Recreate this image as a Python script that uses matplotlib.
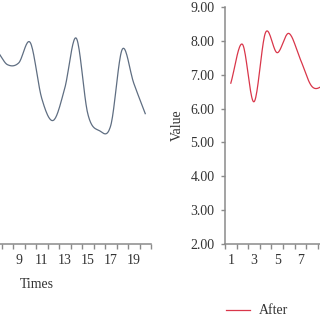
import numpy as np
import matplotlib
matplotlib.use("Agg")
import matplotlib.pyplot as plt
from matplotlib.lines import Line2D

plt.rcParams['font.family'] = ['Liberation Serif', 'DejaVu Serif']

# donnees (les premiers points du panneau gauche sont hors cadre)
temps = list(range(1, 21))
avant = [6.5, 7.2, 6.8, 7.6, 7.0, 7.4, 7.7, 7.3, 7.35, 7.95,
         6.3, 5.65, 6.6, 8.08, 5.85, 5.35, 5.5, 7.75, 6.75, 5.85]
apres = [6.75, 7.9, 6.2, 8.25, 7.65, 8.22, 7.45, 6.65, 6.7, 7.1,
         6.9, 7.4, 7.0, 6.8, 7.3, 7.6, 7.1, 6.9, 7.2, 7.0]
yticks = [2, 3, 4, 5, 6, 7, 8, 9]
labels_gauche = [9, 11, 13, 15, 17, 19]
labels_droite = [1, 3, 5, 7]

gris = '#8a8a8a'
txt = '#333333'
fs = 10


# courbe lissee type Catmull-Rom pour le trace
def lisser(x, y, n=20):
    x = np.asarray(x, float)
    y = np.asarray(y, float)
    px = np.concatenate([[2 * x[0] - x[1]], x, [2 * x[-1] - x[-2]]])
    py = np.concatenate([[2 * y[0] - y[1]], y, [2 * y[-1] - y[-2]]])
    xs, ys = [], []
    t = np.linspace(0, 1, n, endpoint=False)
    for i in range(1, len(px) - 2):
        for arr, out in ((px, xs), (py, ys)):
            p0, p1, p2, p3 = arr[i - 1], arr[i], arr[i + 1], arr[i + 2]
            out.extend(0.5 * (2 * p1 + (-p0 + p2) * t
                              + (2 * p0 - 5 * p1 + 4 * p2 - p3) * t ** 2
                              + (-p0 + 3 * p1 - 3 * p2 + p3) * t ** 3))
    xs.append(x[-1])
    ys.append(y[-1])
    return np.array(xs), np.array(ys)


def style_axe(ax, labels_x, avec_y):
    ax.set_xlim(0.5, 20.5)
    ax.set_ylim(2, 9)
    for s in ['top', 'right']:
        ax.spines[s].set_visible(False)
    for s in ['left', 'bottom']:
        ax.spines[s].set_color(gris)
        ax.spines[s].set_linewidth(1.1)
    # graduations entre les categories, etiquettes au centre
    ax.set_xticks(np.arange(0.5, 21, 1))
    ax.set_xticklabels([])
    ax.set_xticks(labels_x, minor=True)
    ax.set_xticklabels([str(v) for v in labels_x], minor=True)
    ax.tick_params(axis='x', which='major', length=3.5, width=1, color=gris)
    ax.tick_params(axis='x', which='minor', length=0, pad=7.5, labelsize=fs, labelcolor=txt)
    ax.set_yticks(yticks)
    if avec_y:
        ax.set_yticklabels(['%.2f' % v for v in yticks])
    else:
        ax.set_yticklabels([])
    ax.tick_params(axis='y', length=3, width=1, color=gris, pad=4.5, labelsize=fs, labelcolor=txt)


fig = plt.figure(figsize=(3.2, 3.2), dpi=100)

ax1 = fig.add_axes([-79 / 320, 76 / 320, 230 / 320, 237 / 320])
style_axe(ax1, labels_gauche, False)
xs, ys = lisser(temps, avant)
ax1.plot(xs, ys, color='#5f6e82', linewidth=0.9)
ax1.set_xlabel('Times', fontsize=fs, color=txt)
ax1.xaxis.set_label_coords(0.503, -0.144)

ax2 = fig.add_axes([225 / 320, 76 / 320, 232 / 320, 237 / 320])
style_axe(ax2, labels_droite, True)
xs, ys = lisser(temps, apres)
ax2.plot(xs, ys, color='#d9364a', linewidth=0.9)
ax2.set_ylabel('Value', fontsize=fs, color=txt)
ax2.yaxis.set_label_coords(-0.177, 0.5)

fig.legend(handles=[Line2D([], [], color='#d9364a', linewidth=0.9)], labels=['After'],
           loc='center left', bbox_to_anchor=(226 / 320, 9 / 320), frameon=False,
           fontsize=fs, handlelength=1.7, handletextpad=0.7, borderpad=0,
           borderaxespad=0, labelcolor=txt)

fig.savefig('out.png', dpi=100)
